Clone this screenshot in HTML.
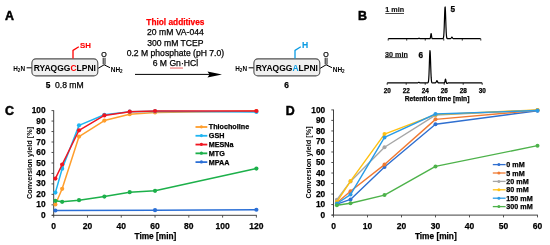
<!DOCTYPE html>
<html><head><meta charset="utf-8"><style>
html,body{margin:0;padding:0;background:#fff;width:550px;height:245px;overflow:hidden}
svg{display:block;filter:blur(0.3px)}
text{font-family:"Liberation Sans", sans-serif;stroke-width:0.25px}
</style></head><body>
<svg width="550" height="245" viewBox="0 0 550 245" font-family='"Liberation Sans", sans-serif'>
<text x="4.9" y="20.2" font-size="12.4" font-weight="bold" fill="#000" stroke="#000" text-anchor="start" style="stroke-width:0.5px">A</text>
<text x="357.9" y="20.2" font-size="12.4" font-weight="bold" fill="#000" stroke="#000" text-anchor="start" style="stroke-width:0.5px">B</text>
<text x="5.1" y="115.1" font-size="12.4" font-weight="bold" fill="#000" stroke="#000" text-anchor="start" style="stroke-width:0.5px">C</text>
<text x="285.7" y="114.9" font-size="12.4" font-weight="bold" fill="#000" stroke="#000" text-anchor="start" style="stroke-width:0.5px">D</text>
<rect x="31.9" y="58.9" width="65.9" height="17.0" rx="4" fill="#f0f0f0" stroke="#505050" stroke-width="1.1"/>
<text x="33.7" y="71.3" font-size="8.5" font-weight="bold">RYAQGG<tspan fill="#ff0000">C</tspan>LPNI</text>
<text x="13.2" y="70.6" font-size="6.4" font-weight="bold">H<tspan font-size="4.6" dy="1.4">2</tspan><tspan dy="-1.4">N</tspan></text>
<line x1="26.6" y1="67.8" x2="31.6" y2="67.8" stroke="#000" stroke-width="1" />
<polyline points="73.0,58.6 73.0,50.4 78.8,46.8" fill="none" stroke="#ff0000" stroke-width="1.3"/>
<text x="80.1" y="47.8" font-size="7.9" font-weight="bold" fill="#ff0000" stroke="#ff0000" text-anchor="start" style="stroke-width:0.1px">SH</text>
<polyline points="98.2,68.3 104.1,64.8 110.0,67.7" fill="none" stroke="#000" stroke-width="1" stroke-linejoin="round"/>
<line x1="103.2" y1="57.8" x2="103.2" y2="64.3" stroke="#000" stroke-width="0.9" />
<line x1="105.0" y1="57.8" x2="105.0" y2="64.6" stroke="#000" stroke-width="0.9" />
<text x="103.9" y="56.8" font-size="7.0" fill="#000" stroke="#000" stroke-width="0.18" text-anchor="middle" >O</text>
<text x="110.7" y="71.7" font-size="6.5" font-weight="bold">NH<tspan font-size="4.6" dy="1.4">2</tspan></text>
<rect x="253.9" y="58.9" width="65.9" height="17.0" rx="4" fill="#f0f0f0" stroke="#505050" stroke-width="1.1"/>
<text x="255.7" y="71.3" font-size="8.5" font-weight="bold">RYAQGG<tspan fill="#0b9be2">A</tspan>LPNI</text>
<text x="235.2" y="70.6" font-size="6.4" font-weight="bold">H<tspan font-size="4.6" dy="1.4">2</tspan><tspan dy="-1.4">N</tspan></text>
<line x1="248.6" y1="67.8" x2="253.6" y2="67.8" stroke="#000" stroke-width="1" />
<polyline points="295.0,58.6 295.0,50.4 300.8,46.8" fill="none" stroke="#0b9be2" stroke-width="1.3"/>
<text x="301.9" y="47.8" font-size="8.6" font-weight="bold" fill="#0b9be2" stroke="#0b9be2" text-anchor="start" style="stroke-width:0.1px">H</text>
<polyline points="320.2,68.3 326.1,64.8 332.0,67.7" fill="none" stroke="#000" stroke-width="1" stroke-linejoin="round"/>
<line x1="325.2" y1="57.8" x2="325.2" y2="64.3" stroke="#000" stroke-width="0.9" />
<line x1="327.0" y1="57.8" x2="327.0" y2="64.6" stroke="#000" stroke-width="0.9" />
<text x="325.9" y="56.8" font-size="7.0" fill="#000" stroke="#000" stroke-width="0.18" text-anchor="middle" >O</text>
<text x="332.7" y="71.7" font-size="6.5" font-weight="bold">NH<tspan font-size="4.6" dy="1.4">2</tspan></text>
<text x="45.8" y="87.8" font-size="8.3" font-weight="bold" fill="#000" stroke="#000" text-anchor="start" >5</text>
<text x="55" y="87.8" font-size="8.6" fill="#000" stroke="#000" stroke-width="0.18" text-anchor="start" >0.8 mM</text>
<text x="286.5" y="88" font-size="8.3" font-weight="bold" fill="#000" stroke="#000" text-anchor="middle" >6</text>
<text x="175.4" y="25.2" font-size="8.3" font-weight="bold" fill="#ff0000" stroke="#ff0000" text-anchor="middle" >Thiol additives</text>
<text x="175.4" y="35.4" font-size="8.6" fill="#000" stroke="#000" stroke-width="0.18" text-anchor="middle" >20 mM VA-044</text>
<text x="175.4" y="45.6" font-size="8.6" fill="#000" stroke="#000" stroke-width="0.18" text-anchor="middle" >300 mM TCEP</text>
<text x="175.4" y="55.8" font-size="8.6" fill="#000" stroke="#000" stroke-width="0.18" text-anchor="middle" >0.2 M phosphate (pH 7.0)</text>
<text x="175.4" y="66" font-size="8.6" fill="#000" stroke="#000" stroke-width="0.18" text-anchor="middle" >6 M Gn·HCl</text>
<path d="M170.0,67.6 l1.0,0.9 l1.0,-0.9 l1.0,0.9 l1.0,-0.9 l1.0,0.9 l1.0,-0.9 l1.0,0.9 l1.0,-0.9 l1.0,0.9 l1.0,-0.9 l1.0,0.9 l1.0,-0.9 l1.0,0.9" fill="none" stroke="#e82020" stroke-width="0.7"/>
<line x1="135" y1="74.4" x2="210" y2="74.4" stroke="#000" stroke-width="1" />
<polygon points="207.5,71.4 222,74.4 207.5,77.4 209.5,74.4" fill="#000"/>
<polyline points="388.20,38.70 388.45,38.70 388.70,38.70 388.95,38.70 389.20,38.70 389.45,38.70 389.70,38.70 389.95,38.70 390.20,38.70 390.45,38.70 390.70,38.70 390.95,38.70 391.20,38.70 391.45,38.70 391.70,38.70 391.95,38.70 392.20,38.70 392.45,38.70 392.70,38.70 392.95,38.70 393.20,38.70 393.45,38.70 393.70,38.70 393.95,38.70 394.20,38.70 394.45,38.70 394.70,38.70 394.95,38.70 395.20,38.70 395.45,38.70 395.70,38.70 395.95,38.70 396.20,38.70 396.45,38.70 396.70,38.70 396.95,38.70 397.20,38.70 397.45,38.70 397.70,38.70 397.95,38.70 398.20,38.70 398.45,38.70 398.70,38.70 398.95,38.70 399.20,38.70 399.45,38.70 399.70,38.70 399.95,38.70 400.20,38.70 400.45,38.70 400.70,38.70 400.95,38.70 401.20,38.70 401.45,38.70 401.70,38.70 401.95,38.70 402.20,38.70 402.45,38.70 402.70,38.70 402.95,38.70 403.20,38.70 403.45,38.70 403.70,38.70 403.95,38.70 404.20,38.70 404.45,38.70 404.70,38.70 404.95,38.70 405.20,38.70 405.45,38.70 405.70,38.70 405.95,38.70 406.20,38.70 406.45,38.70 406.70,38.70 406.95,38.70 407.20,38.70 407.45,38.70 407.70,38.70 407.95,38.70 408.20,38.70 408.45,38.70 408.70,38.70 408.95,38.70 409.20,38.70 409.45,38.70 409.70,38.70 409.95,38.70 410.20,38.70 410.45,38.70 410.70,38.70 410.95,38.70 411.20,38.70 411.45,38.70 411.70,38.70 411.95,38.70 412.20,38.70 412.45,38.70 412.70,38.70 412.95,38.70 413.20,38.70 413.45,38.70 413.70,38.70 413.95,38.70 414.20,38.70 414.45,38.70 414.70,38.70 414.95,38.70 415.20,38.70 415.45,38.70 415.70,38.70 415.95,38.70 416.20,38.70 416.45,38.70 416.70,38.70 416.95,38.70 417.20,38.70 417.45,38.70 417.70,38.68 417.95,38.64 418.20,38.56 418.45,38.43 418.70,38.28 418.95,38.20 419.20,38.24 419.45,38.37 419.70,38.51 419.95,38.62 420.20,38.67 420.45,38.69 420.70,38.70 420.95,38.70 421.20,38.70 421.45,38.70 421.70,38.70 421.95,38.70 422.20,38.70 422.45,38.70 422.70,38.70 422.95,38.70 423.20,38.70 423.45,38.70 423.70,38.70 423.95,38.70 424.20,38.70 424.45,38.70 424.70,38.70 424.95,38.70 425.20,38.70 425.45,38.70 425.70,38.70 425.95,38.70 426.20,38.70 426.45,38.70 426.70,38.70 426.95,38.70 427.20,38.70 427.45,38.70 427.70,38.70 427.95,38.70 428.20,38.70 428.45,38.70 428.70,38.70 428.95,38.70 429.20,38.70 429.45,38.70 429.70,38.69 429.95,38.62 430.20,38.29 430.45,37.31 430.70,35.55 430.95,33.85 431.20,33.66 431.45,35.15 431.70,37.01 431.95,38.16 432.20,38.58 432.45,38.68 432.70,38.70 432.95,38.70 433.20,38.70 433.45,38.70 433.70,38.70 433.95,38.70 434.20,38.70 434.45,38.70 434.70,38.70 434.95,38.70 435.20,38.70 435.45,38.70 435.70,38.70 435.95,38.70 436.20,38.70 436.45,38.70 436.70,38.70 436.95,38.70 437.20,38.70 437.45,38.70 437.70,38.70 437.95,38.70 438.20,38.70 438.45,38.70 438.70,38.70 438.95,38.70 439.20,38.70 439.45,38.70 439.70,38.70 439.95,38.70 440.20,38.70 440.45,38.70 440.70,38.70 440.95,38.70 441.20,38.70 441.45,38.70 441.70,38.70 441.95,38.70 442.20,38.70 442.45,38.70 442.70,38.68 442.95,38.62 443.20,38.41 443.45,37.77 443.70,36.18 443.95,32.94 444.20,27.47 444.45,20.11 444.70,12.55 444.95,7.43 445.20,6.92 445.45,11.24 445.70,18.54 445.95,26.12 446.20,32.03 446.45,35.69 446.70,37.55 446.95,38.32 447.20,38.60 447.45,38.68 447.70,38.70 447.95,38.70 448.20,38.70 448.45,38.70 448.70,38.70 448.95,38.70 449.20,38.70 449.45,38.70 449.70,38.70 449.95,38.70 450.20,38.69 450.45,38.65 450.70,38.55 450.95,38.34 451.20,37.99 451.45,37.56 451.70,37.20 451.95,37.11 452.20,37.32 452.45,37.73 452.70,38.14 452.95,38.44 453.20,38.60 453.45,38.67 453.70,38.69 453.95,38.70 454.20,38.70 454.45,38.70 454.70,38.70 454.95,38.70 455.20,38.70 455.45,38.70 455.70,38.70 455.95,38.70 456.20,38.70 456.45,38.70 456.70,38.70 456.95,38.70 457.20,38.70 457.45,38.70 457.70,38.70 457.95,38.70 458.20,38.70 458.45,38.70 458.70,38.70 458.95,38.70 459.20,38.70 459.45,38.70 459.70,38.70 459.95,38.70 460.20,38.70 460.45,38.70 460.70,38.70 460.95,38.70 461.20,38.70 461.45,38.70 461.70,38.70 461.95,38.70 462.20,38.70 462.45,38.70 462.70,38.70 462.95,38.70 463.20,38.70 463.45,38.70 463.70,38.70 463.95,38.70 464.20,38.70 464.45,38.70 464.70,38.70 464.95,38.70 465.20,38.70 465.45,38.70 465.70,38.70 465.95,38.70 466.20,38.70 466.45,38.70 466.70,38.70 466.95,38.70 467.20,38.70 467.45,38.70 467.70,38.70 467.95,38.70 468.20,38.70 468.45,38.70 468.70,38.70 468.95,38.70 469.20,38.70 469.45,38.70 469.70,38.70 469.95,38.70 470.20,38.70 470.45,38.70 470.70,38.70 470.95,38.70 471.20,38.70 471.45,38.70 471.70,38.70 471.95,38.70 472.20,38.70 472.45,38.70 472.70,38.70 472.95,38.70 473.20,38.70 473.45,38.70 473.70,38.70 473.95,38.70 474.20,38.70 474.45,38.70 474.70,38.70 474.95,38.70 475.20,38.70 475.45,38.70 475.70,38.70 475.95,38.70 476.20,38.70 476.45,38.70 476.70,38.70 476.95,38.70 477.20,38.70 477.45,38.70 477.70,38.70 477.95,38.70 478.20,38.70 478.45,38.70 478.70,38.70 478.95,38.70 479.20,38.70 479.45,38.70 479.70,38.70 479.95,38.70 480.20,38.70 480.45,38.70 480.70,38.70" fill="none" stroke="#000" stroke-width="1.2" stroke-linejoin="round"/>
<line x1="388.2" y1="38.7" x2="388.2" y2="40.6" stroke="#000" stroke-width="0.8" />
<line x1="406.71999999999997" y1="38.7" x2="406.71999999999997" y2="40.6" stroke="#000" stroke-width="0.8" />
<line x1="425.24" y1="38.7" x2="425.24" y2="40.6" stroke="#000" stroke-width="0.8" />
<line x1="443.76" y1="38.7" x2="443.76" y2="40.6" stroke="#000" stroke-width="0.8" />
<line x1="462.28" y1="38.7" x2="462.28" y2="40.6" stroke="#000" stroke-width="0.8" />
<line x1="480.8" y1="38.7" x2="480.8" y2="40.6" stroke="#000" stroke-width="0.8" />
<polyline points="387.20,82.90 387.45,82.90 387.70,82.90 387.95,82.90 388.20,82.90 388.45,82.90 388.70,82.90 388.95,82.90 389.20,82.90 389.45,82.90 389.70,82.90 389.95,82.90 390.20,82.90 390.45,82.90 390.70,82.90 390.95,82.90 391.20,82.90 391.45,82.90 391.70,82.90 391.95,82.90 392.20,82.90 392.45,82.90 392.70,82.90 392.95,82.90 393.20,82.90 393.45,82.90 393.70,82.90 393.95,82.90 394.20,82.90 394.45,82.90 394.70,82.90 394.95,82.90 395.20,82.90 395.45,82.90 395.70,82.90 395.95,82.90 396.20,82.90 396.45,82.90 396.70,82.90 396.95,82.90 397.20,82.90 397.45,82.90 397.70,82.90 397.95,82.90 398.20,82.90 398.45,82.90 398.70,82.90 398.95,82.90 399.20,82.90 399.45,82.90 399.70,82.90 399.95,82.90 400.20,82.90 400.45,82.90 400.70,82.90 400.95,82.90 401.20,82.90 401.45,82.90 401.70,82.90 401.95,82.90 402.20,82.90 402.45,82.90 402.70,82.90 402.95,82.90 403.20,82.90 403.45,82.90 403.70,82.90 403.95,82.90 404.20,82.90 404.45,82.90 404.70,82.90 404.95,82.90 405.20,82.90 405.45,82.90 405.70,82.90 405.95,82.90 406.20,82.90 406.45,82.90 406.70,82.90 406.95,82.90 407.20,82.90 407.45,82.90 407.70,82.90 407.95,82.90 408.20,82.90 408.45,82.90 408.70,82.90 408.95,82.90 409.20,82.90 409.45,82.90 409.70,82.90 409.95,82.90 410.20,82.90 410.45,82.90 410.70,82.90 410.95,82.90 411.20,82.90 411.45,82.90 411.70,82.90 411.95,82.90 412.20,82.90 412.45,82.90 412.70,82.90 412.95,82.90 413.20,82.90 413.45,82.90 413.70,82.90 413.95,82.90 414.20,82.90 414.45,82.90 414.70,82.90 414.95,82.90 415.20,82.90 415.45,82.90 415.70,82.90 415.95,82.90 416.20,82.90 416.45,82.90 416.70,82.90 416.95,82.90 417.20,82.90 417.45,82.88 417.70,82.85 417.95,82.76 418.20,82.61 418.45,82.43 418.70,82.31 418.95,82.33 419.20,82.46 419.45,82.64 419.70,82.78 419.95,82.86 420.20,82.89 420.45,82.90 420.70,82.90 420.95,82.90 421.20,82.90 421.45,82.90 421.70,82.90 421.95,82.90 422.20,82.90 422.45,82.90 422.70,82.90 422.95,82.90 423.20,82.90 423.45,82.90 423.70,82.90 423.95,82.90 424.20,82.90 424.45,82.90 424.70,82.90 424.95,82.90 425.20,82.90 425.45,82.90 425.70,82.90 425.95,82.90 426.20,82.90 426.45,82.90 426.70,82.90 426.95,82.90 427.20,82.90 427.45,82.89 427.70,82.87 427.95,82.76 428.20,82.42 428.45,81.48 428.70,79.30 428.95,75.18 429.20,68.81 429.45,61.04 429.70,54.08 429.95,50.61 430.20,52.14 430.45,58.00 430.70,65.77 430.95,72.88 431.20,77.92 431.45,80.80 431.70,82.14 431.95,82.67 432.20,82.84 432.45,82.89 432.70,82.90 432.95,82.90 433.20,82.90 433.45,82.90 433.70,82.90 433.95,82.90 434.20,82.90 434.45,82.90 434.70,82.90 434.95,82.90 435.20,82.88 435.45,82.83 435.70,82.70 435.95,82.41 436.20,81.92 436.45,81.33 436.70,80.84 436.95,80.71 437.20,81.00 437.45,81.57 437.70,82.14 437.95,82.54 438.20,82.77 438.45,82.86 438.70,82.89 438.95,82.90 439.20,82.90 439.45,82.90 439.70,82.90 439.95,82.90 440.20,82.90 440.45,82.90 440.70,82.90 440.95,82.90 441.20,82.90 441.45,82.90 441.70,82.90 441.95,82.90 442.20,82.90 442.45,82.90 442.70,82.90 442.95,82.90 443.20,82.90 443.45,82.90 443.70,82.90 443.95,82.90 444.20,82.87 444.45,82.73 444.70,82.28 444.95,81.29 445.20,79.96 445.45,79.13 445.70,79.53 445.95,80.83 446.20,82.12 446.45,82.93 446.70,83.34 446.95,83.49 447.20,83.45 447.45,83.30 447.70,83.13 447.95,83.00 448.20,82.93 448.45,82.91 448.70,82.90 448.95,82.90 449.20,82.90 449.45,82.90 449.70,82.90 449.95,82.90 450.20,82.90 450.45,82.90 450.70,82.90 450.95,82.90 451.20,82.90 451.45,82.90 451.70,82.90 451.95,82.90 452.20,82.90 452.45,82.90 452.70,82.90 452.95,82.90 453.20,82.90 453.45,82.90 453.70,82.90 453.95,82.90 454.20,82.90 454.45,82.90 454.70,82.90 454.95,82.90 455.20,82.90 455.45,82.90 455.70,82.90 455.95,82.90 456.20,82.90 456.45,82.90 456.70,82.90 456.95,82.90 457.20,82.90 457.45,82.90 457.70,82.90 457.95,82.90 458.20,82.90 458.45,82.90 458.70,82.90 458.95,82.90 459.20,82.90 459.45,82.90 459.70,82.90 459.95,82.90 460.20,82.90 460.45,82.90 460.70,82.90 460.95,82.90 461.20,82.90 461.45,82.90 461.70,82.90 461.95,82.90 462.20,82.90 462.45,82.90 462.70,82.90 462.95,82.90 463.20,82.90 463.45,82.90 463.70,82.90 463.95,82.90 464.20,82.90 464.45,82.90 464.70,82.90 464.95,82.90 465.20,82.90 465.45,82.90 465.70,82.90 465.95,82.90 466.20,82.90 466.45,82.90 466.70,82.90 466.95,82.90 467.20,82.90 467.45,82.90 467.70,82.90 467.95,82.90 468.20,82.90 468.45,82.90 468.70,82.90 468.95,82.90 469.20,82.90 469.45,82.90 469.70,82.90 469.95,82.90 470.20,82.90 470.45,82.90 470.70,82.90 470.95,82.90 471.20,82.90 471.45,82.90 471.70,82.90 471.95,82.90 472.20,82.90 472.45,82.90 472.70,82.90 472.95,82.90 473.20,82.90 473.45,82.90 473.70,82.90 473.95,82.90 474.20,82.90 474.45,82.90 474.70,82.90 474.95,82.90 475.20,82.90 475.45,82.90 475.70,82.90 475.95,82.90 476.20,82.90 476.45,82.90 476.70,82.90 476.95,82.90 477.20,82.90 477.45,82.90 477.70,82.90 477.95,82.90 478.20,82.90 478.45,82.90 478.70,82.90 478.95,82.90 479.20,82.90 479.45,82.90 479.70,82.90 479.95,82.90 480.20,82.90 480.45,82.90 480.70,82.90 480.95,82.90 481.20,82.90 481.45,82.90 481.70,82.90 481.95,82.90 482.20,82.90" fill="none" stroke="#000" stroke-width="1.2" stroke-linejoin="round"/>
<line x1="387.2" y1="82.9" x2="387.2" y2="84.80000000000001" stroke="#000" stroke-width="0.8" />
<line x1="406.2" y1="82.9" x2="406.2" y2="84.80000000000001" stroke="#000" stroke-width="0.8" />
<line x1="425.2" y1="82.9" x2="425.2" y2="84.80000000000001" stroke="#000" stroke-width="0.8" />
<line x1="444.2" y1="82.9" x2="444.2" y2="84.80000000000001" stroke="#000" stroke-width="0.8" />
<line x1="463.2" y1="82.9" x2="463.2" y2="84.80000000000001" stroke="#000" stroke-width="0.8" />
<line x1="482.2" y1="82.9" x2="482.2" y2="84.80000000000001" stroke="#000" stroke-width="0.8" />
<text x="385.3" y="12.4" font-size="7.2" font-weight="bold" fill="#111" stroke="#111" text-anchor="start" style="stroke-width:0.15px">1 min</text>
<line x1="385.3" y1="13.5" x2="404" y2="13.5" stroke="#333" stroke-width="0.9" />
<text x="385" y="56.8" font-size="7.2" font-weight="bold" fill="#111" stroke="#111" text-anchor="start" style="stroke-width:0.15px">30 min</text>
<line x1="385" y1="57.6" x2="407.8" y2="57.6" stroke="#333" stroke-width="0.9" />
<text x="450.6" y="11.9" font-size="8.2" font-weight="bold" fill="#000" stroke="#000" text-anchor="start" >5</text>
<text x="418.6" y="58.3" font-size="8.2" font-weight="bold" fill="#000" stroke="#000" text-anchor="start" >6</text>
<text x="387.2" y="92.6" font-size="6.4" font-weight="bold" fill="#000" stroke="#000" text-anchor="middle" >20</text>
<text x="406.2" y="92.6" font-size="6.4" font-weight="bold" fill="#000" stroke="#000" text-anchor="middle" >22</text>
<text x="425.2" y="92.6" font-size="6.4" font-weight="bold" fill="#000" stroke="#000" text-anchor="middle" >24</text>
<text x="444.2" y="92.6" font-size="6.4" font-weight="bold" fill="#000" stroke="#000" text-anchor="middle" >26</text>
<text x="463.2" y="92.6" font-size="6.4" font-weight="bold" fill="#000" stroke="#000" text-anchor="middle" >28</text>
<text x="482.2" y="92.6" font-size="6.4" font-weight="bold" fill="#000" stroke="#000" text-anchor="middle" >30</text>
<text x="437.1" y="101" font-size="6.7" font-weight="bold" fill="#000" stroke="#000" text-anchor="middle" >Retention time [min]</text>
<line x1="53.7" y1="110.3" x2="53.7" y2="215.3" stroke="#404040" stroke-width="1" />
<line x1="51.5" y1="215.3" x2="53.7" y2="215.3" stroke="#404040" stroke-width="0.9" />
<text x="45.6" y="217.9" font-size="8.3" font-weight="bold" fill="#000" stroke="#000" text-anchor="end" >0</text>
<line x1="51.5" y1="204.83" x2="53.7" y2="204.83" stroke="#404040" stroke-width="0.9" />
<text x="45.6" y="207.43" font-size="8.3" font-weight="bold" fill="#000" stroke="#000" text-anchor="end" >10</text>
<line x1="51.5" y1="194.36" x2="53.7" y2="194.36" stroke="#404040" stroke-width="0.9" />
<text x="45.6" y="196.96" font-size="8.3" font-weight="bold" fill="#000" stroke="#000" text-anchor="end" >20</text>
<line x1="51.5" y1="183.89000000000001" x2="53.7" y2="183.89000000000001" stroke="#404040" stroke-width="0.9" />
<text x="45.6" y="186.49" font-size="8.3" font-weight="bold" fill="#000" stroke="#000" text-anchor="end" >30</text>
<line x1="51.5" y1="173.42000000000002" x2="53.7" y2="173.42000000000002" stroke="#404040" stroke-width="0.9" />
<text x="45.6" y="176.02" font-size="8.3" font-weight="bold" fill="#000" stroke="#000" text-anchor="end" >40</text>
<line x1="51.5" y1="162.95" x2="53.7" y2="162.95" stroke="#404040" stroke-width="0.9" />
<text x="45.6" y="165.54999999999998" font-size="8.3" font-weight="bold" fill="#000" stroke="#000" text-anchor="end" >50</text>
<line x1="51.5" y1="152.48000000000002" x2="53.7" y2="152.48000000000002" stroke="#404040" stroke-width="0.9" />
<text x="45.6" y="155.08" font-size="8.3" font-weight="bold" fill="#000" stroke="#000" text-anchor="end" >60</text>
<line x1="51.5" y1="142.01" x2="53.7" y2="142.01" stroke="#404040" stroke-width="0.9" />
<text x="45.6" y="144.60999999999999" font-size="8.3" font-weight="bold" fill="#000" stroke="#000" text-anchor="end" >70</text>
<line x1="51.5" y1="131.54" x2="53.7" y2="131.54" stroke="#404040" stroke-width="0.9" />
<text x="45.6" y="134.14" font-size="8.3" font-weight="bold" fill="#000" stroke="#000" text-anchor="end" >80</text>
<line x1="51.5" y1="121.07" x2="53.7" y2="121.07" stroke="#404040" stroke-width="0.9" />
<text x="45.6" y="123.66999999999999" font-size="8.3" font-weight="bold" fill="#000" stroke="#000" text-anchor="end" >90</text>
<line x1="51.5" y1="110.6" x2="53.7" y2="110.6" stroke="#404040" stroke-width="0.9" />
<text x="45.6" y="113.19999999999999" font-size="8.3" font-weight="bold" fill="#000" stroke="#000" text-anchor="end" >100</text>
<line x1="51.900000000000006" y1="215.3" x2="256.79999999999995" y2="215.3" stroke="#404040" stroke-width="1" />
<line x1="53.7" y1="215.3" x2="53.7" y2="217.60000000000002" stroke="#404040" stroke-width="0.9" />
<text x="53.7" y="229.0" font-size="8.5" font-weight="bold" fill="#000" stroke="#000" text-anchor="middle" >0</text>
<line x1="87.48" y1="215.3" x2="87.48" y2="217.60000000000002" stroke="#404040" stroke-width="0.9" />
<text x="87.48" y="229.0" font-size="8.5" font-weight="bold" fill="#000" stroke="#000" text-anchor="middle" >20</text>
<line x1="121.26" y1="215.3" x2="121.26" y2="217.60000000000002" stroke="#404040" stroke-width="0.9" />
<text x="121.26" y="229.0" font-size="8.5" font-weight="bold" fill="#000" stroke="#000" text-anchor="middle" >40</text>
<line x1="155.04000000000002" y1="215.3" x2="155.04000000000002" y2="217.60000000000002" stroke="#404040" stroke-width="0.9" />
<text x="155.04000000000002" y="229.0" font-size="8.5" font-weight="bold" fill="#000" stroke="#000" text-anchor="middle" >60</text>
<line x1="188.82" y1="215.3" x2="188.82" y2="217.60000000000002" stroke="#404040" stroke-width="0.9" />
<text x="188.82" y="229.0" font-size="8.5" font-weight="bold" fill="#000" stroke="#000" text-anchor="middle" >80</text>
<line x1="222.60000000000002" y1="215.3" x2="222.60000000000002" y2="217.60000000000002" stroke="#404040" stroke-width="0.9" />
<text x="222.60000000000002" y="229.0" font-size="8.5" font-weight="bold" fill="#000" stroke="#000" text-anchor="middle" >100</text>
<line x1="256.38" y1="215.3" x2="256.38" y2="217.60000000000002" stroke="#404040" stroke-width="0.9" />
<text x="256.38" y="229.0" font-size="8.5" font-weight="bold" fill="#000" stroke="#000" text-anchor="middle" >120</text>
<text x="155.4" y="238.6" font-size="8.3" font-weight="bold" fill="#000" stroke="#000" text-anchor="middle" >Time [min]</text>
<text transform="translate(32.3,163) rotate(-90)" font-size="7.3" font-weight="bold" text-anchor="middle">Conversion yield [%]</text>
<polyline points="55.39,204.52 62.15,188.81 79.03,136.57 104.37,120.55 129.70,114.16 155.04,112.38 256.38,111.12" fill="none" stroke="#ff9e2c" stroke-width="1.5" stroke-linejoin="round"/>
<circle cx="55.39" cy="204.52" r="2.1" fill="#ff9e2c"/>
<circle cx="62.15" cy="188.81" r="2.1" fill="#ff9e2c"/>
<circle cx="79.03" cy="136.57" r="2.1" fill="#ff9e2c"/>
<circle cx="104.37" cy="120.55" r="2.1" fill="#ff9e2c"/>
<circle cx="129.70" cy="114.16" r="2.1" fill="#ff9e2c"/>
<circle cx="155.04" cy="112.38" r="2.1" fill="#ff9e2c"/>
<circle cx="256.38" cy="111.12" r="2.1" fill="#ff9e2c"/>
<polyline points="55.39,192.58 62.15,168.71 79.03,125.36 104.37,114.79 129.70,111.65 155.04,111.23 256.38,111.96" fill="none" stroke="#1fb5f2" stroke-width="1.5" stroke-linejoin="round"/>
<circle cx="55.39" cy="192.58" r="2.1" fill="#1fb5f2"/>
<circle cx="62.15" cy="168.71" r="2.1" fill="#1fb5f2"/>
<circle cx="79.03" cy="125.36" r="2.1" fill="#1fb5f2"/>
<circle cx="104.37" cy="114.79" r="2.1" fill="#1fb5f2"/>
<circle cx="129.70" cy="111.65" r="2.1" fill="#1fb5f2"/>
<circle cx="155.04" cy="111.23" r="2.1" fill="#1fb5f2"/>
<circle cx="256.38" cy="111.96" r="2.1" fill="#1fb5f2"/>
<polyline points="55.39,178.55 62.15,164.52 79.03,130.28 104.37,115.42 129.70,111.65 155.04,111.02 256.38,111.02" fill="none" stroke="#f01520" stroke-width="1.5" stroke-linejoin="round"/>
<circle cx="55.39" cy="178.55" r="2.1" fill="#f01520"/>
<circle cx="62.15" cy="164.52" r="2.1" fill="#f01520"/>
<circle cx="79.03" cy="130.28" r="2.1" fill="#f01520"/>
<circle cx="104.37" cy="115.42" r="2.1" fill="#f01520"/>
<circle cx="129.70" cy="111.65" r="2.1" fill="#f01520"/>
<circle cx="155.04" cy="111.02" r="2.1" fill="#f01520"/>
<circle cx="256.38" cy="111.02" r="2.1" fill="#f01520"/>
<polyline points="55.39,200.85 62.15,201.79 79.03,200.22 104.37,196.56 129.70,192.16 155.04,190.80 256.38,168.60" fill="none" stroke="#1cb04a" stroke-width="1.5" stroke-linejoin="round"/>
<circle cx="55.39" cy="200.85" r="2.1" fill="#1cb04a"/>
<circle cx="62.15" cy="201.79" r="2.1" fill="#1cb04a"/>
<circle cx="79.03" cy="200.22" r="2.1" fill="#1cb04a"/>
<circle cx="104.37" cy="196.56" r="2.1" fill="#1cb04a"/>
<circle cx="129.70" cy="192.16" r="2.1" fill="#1cb04a"/>
<circle cx="155.04" cy="190.80" r="2.1" fill="#1cb04a"/>
<circle cx="256.38" cy="168.60" r="2.1" fill="#1cb04a"/>
<polyline points="55.39,210.48 155.04,210.17 256.38,209.75" fill="none" stroke="#2b6fd6" stroke-width="1.5" stroke-linejoin="round"/>
<circle cx="55.39" cy="210.48" r="2.1" fill="#2b6fd6"/>
<circle cx="155.04" cy="210.17" r="2.1" fill="#2b6fd6"/>
<circle cx="256.38" cy="209.75" r="2.1" fill="#2b6fd6"/>
<line x1="195.5" y1="127.0" x2="207.3" y2="127.0" stroke="#ff9e2c" stroke-width="1.8" />
<circle cx="201.4" cy="126.8" r="1.6" fill="#ff9e2c"/>
<text x="208.8" y="129.4" font-size="7.2" font-weight="bold" fill="#000" stroke="#000" text-anchor="start" >Thiocholine</text>
<line x1="195.5" y1="135.77999999999997" x2="207.3" y2="135.77999999999997" stroke="#1fb5f2" stroke-width="1.8" />
<circle cx="201.4" cy="135.57999999999998" r="1.6" fill="#1fb5f2"/>
<text x="208.8" y="138.17999999999998" font-size="7.2" font-weight="bold" fill="#000" stroke="#000" text-anchor="start" >GSH</text>
<line x1="195.5" y1="144.55999999999997" x2="207.3" y2="144.55999999999997" stroke="#f01520" stroke-width="1.8" />
<circle cx="201.4" cy="144.35999999999999" r="1.6" fill="#f01520"/>
<text x="208.8" y="146.95999999999998" font-size="7.2" font-weight="bold" fill="#000" stroke="#000" text-anchor="start" >MESNa</text>
<line x1="195.5" y1="153.33999999999997" x2="207.3" y2="153.33999999999997" stroke="#1cb04a" stroke-width="1.8" />
<circle cx="201.4" cy="153.14" r="1.6" fill="#1cb04a"/>
<text x="208.8" y="155.73999999999998" font-size="7.2" font-weight="bold" fill="#000" stroke="#000" text-anchor="start" >MTG</text>
<line x1="195.5" y1="162.11999999999998" x2="207.3" y2="162.11999999999998" stroke="#2b6fd6" stroke-width="1.8" />
<circle cx="201.4" cy="161.92" r="1.6" fill="#2b6fd6"/>
<text x="208.8" y="164.51999999999998" font-size="7.2" font-weight="bold" fill="#000" stroke="#000" text-anchor="start" >MPAA</text>
<line x1="333.5" y1="109.60000000000001" x2="333.5" y2="215.1" stroke="#404040" stroke-width="1" />
<line x1="331.3" y1="215.1" x2="333.5" y2="215.1" stroke="#404040" stroke-width="0.9" />
<text x="325.2" y="217.7" font-size="8.3" font-weight="bold" fill="#000" stroke="#000" text-anchor="end" >0</text>
<line x1="331.3" y1="204.57999999999998" x2="333.5" y2="204.57999999999998" stroke="#404040" stroke-width="0.9" />
<text x="325.2" y="207.17999999999998" font-size="8.3" font-weight="bold" fill="#000" stroke="#000" text-anchor="end" >10</text>
<line x1="331.3" y1="194.06" x2="333.5" y2="194.06" stroke="#404040" stroke-width="0.9" />
<text x="325.2" y="196.66" font-size="8.3" font-weight="bold" fill="#000" stroke="#000" text-anchor="end" >20</text>
<line x1="331.3" y1="183.54" x2="333.5" y2="183.54" stroke="#404040" stroke-width="0.9" />
<text x="325.2" y="186.14" font-size="8.3" font-weight="bold" fill="#000" stroke="#000" text-anchor="end" >30</text>
<line x1="331.3" y1="173.01999999999998" x2="333.5" y2="173.01999999999998" stroke="#404040" stroke-width="0.9" />
<text x="325.2" y="175.61999999999998" font-size="8.3" font-weight="bold" fill="#000" stroke="#000" text-anchor="end" >40</text>
<line x1="331.3" y1="162.5" x2="333.5" y2="162.5" stroke="#404040" stroke-width="0.9" />
<text x="325.2" y="165.1" font-size="8.3" font-weight="bold" fill="#000" stroke="#000" text-anchor="end" >50</text>
<line x1="331.3" y1="151.98000000000002" x2="333.5" y2="151.98000000000002" stroke="#404040" stroke-width="0.9" />
<text x="325.2" y="154.58" font-size="8.3" font-weight="bold" fill="#000" stroke="#000" text-anchor="end" >60</text>
<line x1="331.3" y1="141.46" x2="333.5" y2="141.46" stroke="#404040" stroke-width="0.9" />
<text x="325.2" y="144.06" font-size="8.3" font-weight="bold" fill="#000" stroke="#000" text-anchor="end" >70</text>
<line x1="331.3" y1="130.94" x2="333.5" y2="130.94" stroke="#404040" stroke-width="0.9" />
<text x="325.2" y="133.54" font-size="8.3" font-weight="bold" fill="#000" stroke="#000" text-anchor="end" >80</text>
<line x1="331.3" y1="120.42000000000002" x2="333.5" y2="120.42000000000002" stroke="#404040" stroke-width="0.9" />
<text x="325.2" y="123.02000000000001" font-size="8.3" font-weight="bold" fill="#000" stroke="#000" text-anchor="end" >90</text>
<line x1="331.3" y1="109.9" x2="333.5" y2="109.9" stroke="#404040" stroke-width="0.9" />
<text x="325.2" y="112.5" font-size="8.3" font-weight="bold" fill="#000" stroke="#000" text-anchor="end" >100</text>
<line x1="331.7" y1="215.1" x2="537.9" y2="215.1" stroke="#404040" stroke-width="1" />
<line x1="333.5" y1="215.1" x2="333.5" y2="217.4" stroke="#404040" stroke-width="0.9" />
<text x="333.5" y="229.0" font-size="8.5" font-weight="bold" fill="#000" stroke="#000" text-anchor="middle" >0</text>
<line x1="367.5" y1="215.1" x2="367.5" y2="217.4" stroke="#404040" stroke-width="0.9" />
<text x="367.5" y="229.0" font-size="8.5" font-weight="bold" fill="#000" stroke="#000" text-anchor="middle" >10</text>
<line x1="401.5" y1="215.1" x2="401.5" y2="217.4" stroke="#404040" stroke-width="0.9" />
<text x="401.5" y="229.0" font-size="8.5" font-weight="bold" fill="#000" stroke="#000" text-anchor="middle" >20</text>
<line x1="435.5" y1="215.1" x2="435.5" y2="217.4" stroke="#404040" stroke-width="0.9" />
<text x="435.5" y="229.0" font-size="8.5" font-weight="bold" fill="#000" stroke="#000" text-anchor="middle" >30</text>
<line x1="469.5" y1="215.1" x2="469.5" y2="217.4" stroke="#404040" stroke-width="0.9" />
<text x="469.5" y="229.0" font-size="8.5" font-weight="bold" fill="#000" stroke="#000" text-anchor="middle" >40</text>
<line x1="503.5" y1="215.1" x2="503.5" y2="217.4" stroke="#404040" stroke-width="0.9" />
<text x="503.5" y="229.0" font-size="8.5" font-weight="bold" fill="#000" stroke="#000" text-anchor="middle" >50</text>
<line x1="537.5" y1="215.1" x2="537.5" y2="217.4" stroke="#404040" stroke-width="0.9" />
<text x="537.5" y="229.0" font-size="8.5" font-weight="bold" fill="#000" stroke="#000" text-anchor="middle" >60</text>
<text x="435.8" y="238.6" font-size="8.3" font-weight="bold" fill="#000" stroke="#000" text-anchor="middle" >Time [min]</text>
<text transform="translate(311.3,162.5) rotate(-90)" font-size="7.3" font-weight="bold" text-anchor="middle">Conversion yield [%]</text>
<polyline points="336.90,204.05 350.50,199.43 384.50,166.92 435.50,124.31 537.50,110.74" fill="none" stroke="#2f6fd0" stroke-width="1.4" stroke-linejoin="round"/>
<circle cx="336.90" cy="204.05" r="2.0" fill="#2f6fd0"/>
<circle cx="350.50" cy="199.43" r="2.0" fill="#2f6fd0"/>
<circle cx="384.50" cy="166.92" r="2.0" fill="#2f6fd0"/>
<circle cx="435.50" cy="124.31" r="2.0" fill="#2f6fd0"/>
<circle cx="537.50" cy="110.74" r="2.0" fill="#2f6fd0"/>
<polyline points="336.90,202.69 350.50,191.32 384.50,164.60 435.50,119.37 537.50,110.32" fill="none" stroke="#f07a32" stroke-width="1.4" stroke-linejoin="round"/>
<circle cx="336.90" cy="202.69" r="2.0" fill="#f07a32"/>
<circle cx="350.50" cy="191.32" r="2.0" fill="#f07a32"/>
<circle cx="384.50" cy="164.60" r="2.0" fill="#f07a32"/>
<circle cx="435.50" cy="119.37" r="2.0" fill="#f07a32"/>
<circle cx="537.50" cy="110.32" r="2.0" fill="#f07a32"/>
<polyline points="336.90,199.74 350.50,181.44 384.50,147.25 435.50,115.16 537.50,110.11" fill="none" stroke="#a6a6a6" stroke-width="1.4" stroke-linejoin="round"/>
<circle cx="336.90" cy="199.74" r="2.0" fill="#a6a6a6"/>
<circle cx="350.50" cy="181.44" r="2.0" fill="#a6a6a6"/>
<circle cx="384.50" cy="147.25" r="2.0" fill="#a6a6a6"/>
<circle cx="435.50" cy="115.16" r="2.0" fill="#a6a6a6"/>
<circle cx="537.50" cy="110.11" r="2.0" fill="#a6a6a6"/>
<polyline points="336.90,201.84 350.50,181.12 384.50,134.10 435.50,114.63 537.50,109.90" fill="none" stroke="#ffc010" stroke-width="1.4" stroke-linejoin="round"/>
<circle cx="336.90" cy="201.84" r="2.0" fill="#ffc010"/>
<circle cx="350.50" cy="181.12" r="2.0" fill="#ffc010"/>
<circle cx="384.50" cy="134.10" r="2.0" fill="#ffc010"/>
<circle cx="435.50" cy="114.63" r="2.0" fill="#ffc010"/>
<circle cx="537.50" cy="109.90" r="2.0" fill="#ffc010"/>
<polyline points="336.90,203.53 350.50,194.59 384.50,137.46 435.50,114.00 537.50,110.53" fill="none" stroke="#2a9be6" stroke-width="1.4" stroke-linejoin="round"/>
<circle cx="336.90" cy="203.53" r="2.0" fill="#2a9be6"/>
<circle cx="350.50" cy="194.59" r="2.0" fill="#2a9be6"/>
<circle cx="384.50" cy="137.46" r="2.0" fill="#2a9be6"/>
<circle cx="435.50" cy="114.00" r="2.0" fill="#2a9be6"/>
<circle cx="537.50" cy="110.53" r="2.0" fill="#2a9be6"/>
<polyline points="336.90,205.21 350.50,203.21 384.50,195.11 435.50,166.39 537.50,145.67" fill="none" stroke="#4db24a" stroke-width="1.4" stroke-linejoin="round"/>
<circle cx="336.90" cy="205.21" r="2.0" fill="#4db24a"/>
<circle cx="350.50" cy="203.21" r="2.0" fill="#4db24a"/>
<circle cx="384.50" cy="195.11" r="2.0" fill="#4db24a"/>
<circle cx="435.50" cy="166.39" r="2.0" fill="#4db24a"/>
<circle cx="537.50" cy="145.67" r="2.0" fill="#4db24a"/>
<line x1="492.8" y1="164.6" x2="505.6" y2="164.6" stroke="#2f6fd0" stroke-width="1.3" />
<circle cx="498.9" cy="164.6" r="1.5" fill="#2f6fd0"/>
<text x="506.3" y="167.2" font-size="7.2" font-weight="bold" fill="#000" stroke="#000" text-anchor="start" >0 mM</text>
<line x1="492.8" y1="173.0" x2="505.6" y2="173.0" stroke="#f07a32" stroke-width="1.3" />
<circle cx="498.9" cy="173.0" r="1.5" fill="#f07a32"/>
<text x="506.3" y="175.6" font-size="7.2" font-weight="bold" fill="#000" stroke="#000" text-anchor="start" >5 mM</text>
<line x1="492.8" y1="181.4" x2="505.6" y2="181.4" stroke="#a6a6a6" stroke-width="1.3" />
<circle cx="498.9" cy="181.4" r="1.5" fill="#a6a6a6"/>
<text x="506.3" y="184.0" font-size="7.2" font-weight="bold" fill="#000" stroke="#000" text-anchor="start" >20 mM</text>
<line x1="492.8" y1="189.8" x2="505.6" y2="189.8" stroke="#ffc010" stroke-width="1.3" />
<circle cx="498.9" cy="189.8" r="1.5" fill="#ffc010"/>
<text x="506.3" y="192.4" font-size="7.2" font-weight="bold" fill="#000" stroke="#000" text-anchor="start" >80 mM</text>
<line x1="492.8" y1="198.2" x2="505.6" y2="198.2" stroke="#2a9be6" stroke-width="1.3" />
<circle cx="498.9" cy="198.2" r="1.5" fill="#2a9be6"/>
<text x="506.3" y="200.79999999999998" font-size="7.2" font-weight="bold" fill="#000" stroke="#000" text-anchor="start" >150 mM</text>
<line x1="492.8" y1="206.6" x2="505.6" y2="206.6" stroke="#4db24a" stroke-width="1.3" />
<circle cx="498.9" cy="206.6" r="1.5" fill="#4db24a"/>
<text x="506.3" y="209.2" font-size="7.2" font-weight="bold" fill="#000" stroke="#000" text-anchor="start" >300 mM</text>
</svg>
</body></html>
